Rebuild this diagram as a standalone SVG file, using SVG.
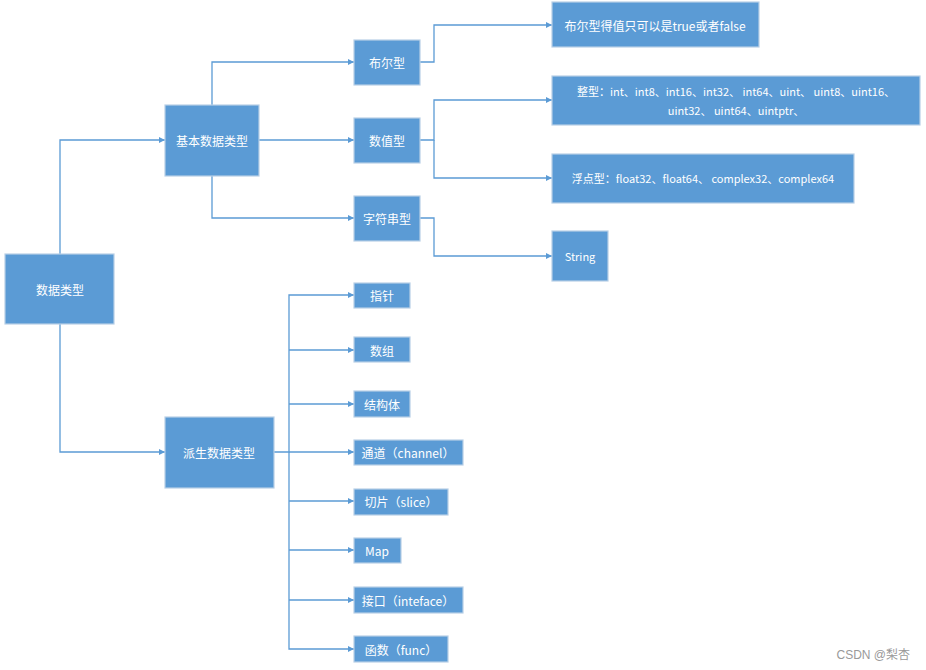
<svg xmlns="http://www.w3.org/2000/svg" width="926" height="670" viewBox="0 0 926 670">
<style>
.n rect{fill:#5b9bd5;stroke:#b8cfe6;stroke-width:1.2}
.n text{fill:#fff;font-family:"Microsoft YaHei","Noto Sans CJK SC",sans-serif;font-size:12px;text-anchor:middle;dominant-baseline:central}
.n text.s{font-size:11px}
#edges path{fill:none;stroke:#5b9bd5;stroke-width:1.3;marker-end:url(#a)}
</style>
<defs><marker id="a" viewBox="0 0 10 10" refX="10" refY="5" markerWidth="6" markerHeight="6" markerUnits="userSpaceOnUse" orient="auto"><path d="M0,0L10,5L0,10z" fill="#5b9bd5"/></marker></defs>
<rect width="926" height="670" fill="#fff"/>
<g id="edges">
<path d="M60,254V140H165"/><path d="M60,324V452H165"/>
<path d="M212,105V62H354"/><path d="M259,140H354"/><path d="M212,176V218H354"/>
<path d="M420,62H434V25H552"/><path d="M420,140H434V100H552"/><path d="M434,140V178H552"/><path d="M420,218H434V256H552"/>
<path d="M274,452H289V295H354"/><path d="M289,350H354"/><path d="M289,404H354"/><path d="M289,452H354"/><path d="M289,452V649H354"/><path d="M289,501H354"/><path d="M289,550H354"/><path d="M289,600H354"/>
</g>
<g id="n0" class="n"><rect x="5" y="254" width="109" height="70"/><text x="60" y="289">数据类型</text></g>
<g id="n1" class="n"><rect x="165" y="105" width="94" height="71"/><text x="212" y="140">基本数据类型</text></g>
<g id="n2" class="n"><rect x="165" y="417" width="109" height="71"/><text x="219" y="452">派生数据类型</text></g>
<g id="n3" class="n"><rect x="354" y="40" width="66" height="45"/><text x="387" y="62">布尔型</text></g>
<g id="n4" class="n"><rect x="354" y="118" width="66" height="45"/><text x="387" y="140">数值型</text></g>
<g id="n5" class="n"><rect x="354" y="196" width="66" height="45"/><text x="387" y="218">字符串型</text></g>
<g id="n6" class="n"><rect x="552" y="2" width="207" height="45"/><text x="655" y="25">布尔型得值只可以是true或者false</text></g>
<g id="n7" class="n"><rect x="552" y="76" width="368" height="49"/><text class="s" x="736" y="91">整型：int、int8、int16、int32、 int64、uint、 uint8、uint16、</text><text class="s" x="736" y="110">uint32、 uint64、uintptr、</text></g>
<g id="n8" class="n"><rect x="552" y="154" width="302" height="49"/><text class="s" x="703" y="178">浮点型：float32、float64、 complex32、complex64</text></g>
<g id="n9" class="n"><rect x="552" y="231" width="56" height="50"/><text class="s" x="580" y="256">String</text></g>
<g id="n10" class="n"><rect x="354" y="283" width="56" height="25"/><text x="382" y="295">指针</text></g>
<g id="n11" class="n"><rect x="354" y="337" width="56" height="25"/><text x="382" y="350">数组</text></g>
<g id="n12" class="n"><rect x="354" y="391" width="56" height="26"/><text x="382" y="404">结构体</text></g>
<g id="n13" class="n"><rect x="354" y="440" width="109" height="25"/><text x="408" y="452">通道（channel）</text></g>
<g id="n14" class="n"><rect x="354" y="489" width="94" height="26"/><text x="401" y="501">切片（slice）</text></g>
<g id="n15" class="n"><rect x="354" y="538" width="47" height="25"/><text x="377" y="550">Map</text></g>
<g id="n16" class="n"><rect x="354" y="587" width="109" height="26"/><text x="408" y="600">接口（inteface）</text></g>
<g id="n17" class="n"><rect x="354" y="636" width="94" height="26"/><text x="401" y="649">函数（func）</text></g>
<text x="910" y="659" text-anchor="end" font-family="Liberation Sans,Noto Sans CJK SC,sans-serif" font-size="12" fill="#999">CSDN @梨杏</text>
</svg>
